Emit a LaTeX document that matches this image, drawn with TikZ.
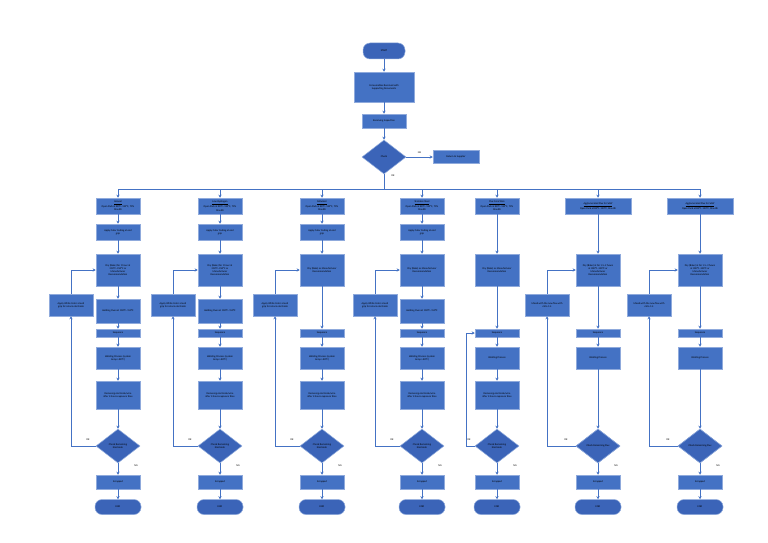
\documentclass[tikz,border=0pt]{standalone}
\usepackage{fontspec}
\setmainfont{Carlito}
\usetikzlibrary{shapes.geometric,arrows.meta}
\definecolor{bfill}{HTML}{4472C4}
\definecolor{bline}{HTML}{8FAADC}
\definecolor{dfill}{HTML}{3B64B8}
\begin{document}
\begin{tikzpicture}[x=1pt,y=-1pt,
 txt/.style={font=\fontsize{2.6}{3.2}\selectfont,text=black,align=center},
 box/.style={txt,draw=bline,line width=0.5pt,fill=bfill,inner sep=0.5pt,minimum width=44pt},
 term/.style={txt,draw=bline,line width=0.5pt,fill=dfill,rounded corners=7pt,minimum width=46pt,minimum height=15pt},
 dia/.style={txt,diamond,draw=bline,line width=0.5pt,fill=dfill,minimum width=44pt,minimum height=34pt,inner sep=0pt,aspect=1.3},
 ar/.style={draw=bfill,line width=0.8pt,-{Stealth[length=3pt,width=3pt]}},
 ln/.style={draw=bfill,line width=0.8pt},
 lab/.style={font=\fontsize{2.6}{3}\selectfont,text=black}]
\useasboundingbox (0,0) rectangle (768,543);
\fill[white] (0,0) rectangle (768,543);
% top
\node[term,minimum width=42pt,minimum height=16pt] (start) at (384,51) {START};
\node[box,minimum width=60pt,minimum height=30pt] (cons) at (384,87) {Consumables Received with\\Supporting Documents};
\node[box,minimum height=14pt] (rec) at (384,121) {Receiving Inspection};
\node[dia] (chk) at (384,157) {Check};
\node[box,minimum width=46pt,minimum height=13pt] (ret) at (456,157) {Return to Supplier};
\draw[ar] (start) -- (cons);
\draw[ar] (cons) -- (rec);
\draw[ar] (rec) -- (chk);
\draw[ar] (chk) -- node[lab,above,pos=0.5]{NG} (ret);
\node[lab] at (393,176) {OK};
\coordinate (bus) at (384,189);
\draw[ln] (chk.south) -- (bus);
\coordinate (bl) at (118,189);
\coordinate (br) at (700,189);
\draw[ln] (bl) -- (br);
% columns
\foreach \i/\x/\nm/\w/\tx in {1/118/Inconel/44/{Open Pack at 80°C–120°C, 75\%\\Max 8h},2/220/Low Hydrogen/44/{Open Pack at 80°C–120°C, 75\%\\Max 8h},3/322/Cellulosic/44/{Open Pack at 80°C–120°C, 75\%\\Max 8h},4/422/Stainless Steel/44/{Open Pack at 80°C–120°C, 75\%\\Max 8h},5/497/Flux Core Wire/44/{Open Pack at 80°C–120°C, 75\%\\Max 8h},6/598/Agglomerated Flux for SAW/66/{Open Pack at 80°C–120°C, Max 8h},7/700/Agglomerated Flux for SAW/66/{Open Pack at 80°C–120°C, Max 8h}}{
 \coordinate (b\i) at (\x,189);
 \node[box,minimum width=\w pt,minimum height=16pt] (t\i) at (\x,206) {\underline{\nm}\\\tx};
 \draw[ar] (b\i) -- (t\i);
 \node[box,minimum height=8pt] (s\i) at (\x,333) {Sequence};
 \node[dia] (k\i) at (\x,446) {Check Remaining\\Electrode};
 \node[box,minimum height=14pt] (x\i) at (\x,482) {Scrapped};
 \node[term] (e\i) at (\x,507) {END};
 \draw[ar] (k\i) -- (x\i);
 \draw[ar] (x\i) -- (e\i);
 \node[lab] at (\x+18,466) {NG};
}
% rows for columns 1-4
\foreach \i/\x/\dry in {1/118/{Dry (Bake) for 1 hour at\\250°C–350°C or\\Manufacturer\\Recommendation},2/220/{Dry (Bake) for 1 hour at\\250°C–350°C or\\Manufacturer\\Recommendation},3/322/{Dry (Bake) as Manufacturer\\Recommendation},4/422/{Dry (Bake) as Manufacturer\\Recommendation}}{
 \node[box,minimum height=16pt] (a\i) at (\x,232) {Apply Color Coding at end\\grip};
 \node[box,minimum height=32pt] (d\i) at (\x,270) {\dry};
 \node[box,minimum height=22pt] (w\i) at (\x,358) {Welding Process (system\\temp ≥ 80°C)};
 \node[box,minimum height=28pt] (r\i) at (\x,395) {Removing electrode/wire\\after 4 hours exposure time};
 \node[box,minimum height=22pt] (p\i) at (\x-47,305) {Apply White Color at end\\grip for return electrode};
 \draw[ar] (t\i) -- (a\i);
 \draw[ar] (a\i) -- (d\i);
 \draw[ar] (s\i) -- (w\i);
 \draw[ar] (w\i) -- (r\i);
 \draw[ar] (r\i) -- (k\i);
 \draw[ar] (k\i.west) -| (p\i.south);
 \draw[ar] (p\i.north) |- (d\i.west);
 \node[lab] at (\x-30,440) {OK};
}
\foreach \i/\x in {1/118,2/220,4/422}{
 \node[box,minimum height=24pt] (h\i) at (\x,311) {Holding Oven at 100°C–150°C};
 \draw[ar] (d\i) -- (h\i);
 \draw[ar] (h\i) -- (s\i);
}
\draw[ar] (d3) -- (s3);
% column 5
\node[box,minimum height=32pt] (d5) at (497,270) {Dry (Bake) as Manufacturer\\Recommendation};
\node[box,minimum height=22pt] (w5) at (497,358) {Welding Process};
\node[box,minimum height=28pt] (r5) at (497,395) {Removing electrode/wire\\after 4 hours exposure time};
\draw[ar] (t5) -- (d5);
\draw[ar] (d5) -- (s5);
\draw[ar] (s5) -- (w5);
\draw[ar] (w5) -- (r5);
\draw[ar] (r5) -- (k5);
\coordinate (l5) at (466,446);
\draw[ar] (k5.west) -- (l5) |- (s5.west);
\node[lab] at (469,440) {OK};
% columns 6,7
\foreach \i/\x in {6/598,7/700}{
 \node[box,minimum height=32pt] (d\i) at (\x,270) {Dry (Bake) at for 1.5–2 hours\\at 300°C–350°C or\\Manufacturer\\Recommendation};
 \node[box,minimum height=22pt] (w\i) at (\x,358) {Welding Process};
 \node[box,minimum height=22pt] (p\i) at (\x-51,305) {Mixed with the new flux with\\ratio 1:4};
 \node[dia] at (\x,446) {};
 \node[txt] at (\x,446) {Check Remaining Flux};
 \draw[ar] (t\i) -- (d\i);
 \draw[ar] (d\i) -- (s\i);
 \draw[ar] (s\i) -- (w\i);
 \draw[ar] (w\i) -- (k\i);
 \draw[ar] (k\i.west) -| (p\i.south);
 \draw[ar] (p\i.north) |- (d\i.west);
 \node[lab] at (\x-32,440) {OK};
}
\end{tikzpicture}
\end{document}
